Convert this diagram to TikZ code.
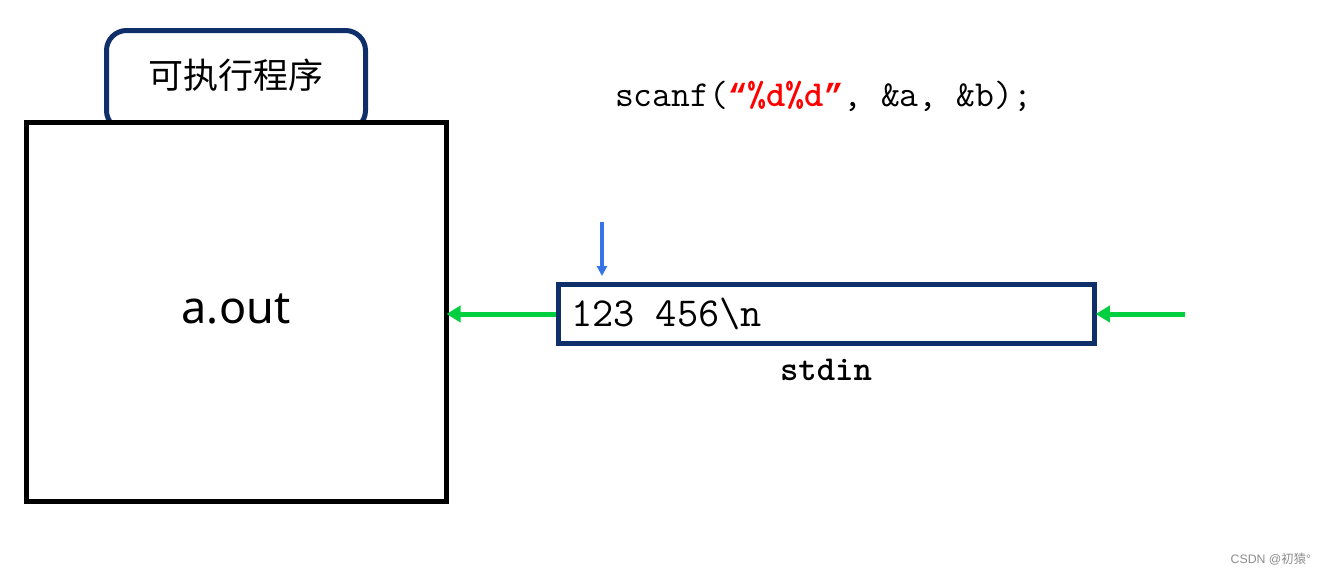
\documentclass[tikz,border=0pt]{standalone}
\usepackage{fontspec}
\setmainfont{Liberation Sans}
\newfontfamily\cjk{Noto Sans CJK SC}
\newfontfamily\labelf{Noto Sans}
\newfontfamily\quotef{Liberation Mono}
\usetikzlibrary{arrows.meta}
\definecolor{navy}{HTML}{0F2F6B}
\definecolor{flow}{HTML}{00D040}
\definecolor{pointer}{HTML}{3575E8}
\definecolor{mark}{HTML}{8C8C8C}
\newcommand{\qmark}[1]{{\quotef\bfseries\fontsize{32}{36}\selectfont #1}}
\tikzset{
  x=1pt,y=-1pt,
  prog/.style={draw=black,line width=5pt,fill=white,minimum width=420pt,minimum height=379pt,inner sep=0pt},
  tag/.style={draw=navy,line width=5pt,fill=white,rounded corners=20pt,minimum width=259pt,minimum height=100pt,inner sep=0pt},
  buffer/.style={draw=navy,line width=5.5pt,fill=white,minimum width=536pt,minimum height=59pt,inner sep=0pt},
  flowarrow/.style={draw=flow,line width=5pt,-{Triangle[length=14pt,width=16pt]}},
  pointerarrow/.style={draw=pointer,line width=3.2pt,-{Triangle[length=10pt,width=10pt]}},
  txt/.style={inner sep=0pt,outer sep=0pt,text=black}
}
\begin{document}
\begin{tikzpicture}
\useasboundingbox (0,0) rectangle (1326,574);
\node[tag] (tag) at (236,80.5) {};
\node[txt,font=\cjk\fontsize{35}{35}\selectfont] (tagtext) at (236,75) {可执行程序};
\node[prog] (prog) at (236,311.5) {};
\node[txt,anchor=base,font=\labelf\fontsize{45}{45}\selectfont] (progtext) at (236,323) {a.out};
\node[buffer] (buf) at (826.5,314) {};
\node[txt,anchor=base west,font=\ttfamily\fontsize{41.2}{41}\selectfont] (buftext) at (571,326) {123 456\textbackslash n};
\node[txt,anchor=base,font=\ttfamily\bfseries\fontsize{35}{35}\selectfont] (stdin) at (826,380) {stdin};
\node[txt,anchor=base west,font=\ttfamily\fontsize{36.6}{37}\selectfont] (code) at (615,106) {scanf(\textcolor{red}{\qmark{“}\bfseries\%d\%d\qmark{”}}, \&a, \&b);};
\node[txt,text=mark,anchor=base east,font=\fontsize{12.3}{12.3}\selectfont] (wm) at (1311,563) {CSDN @{\cjk 初猿}°};
\coordinate (inflow) at (1185,314);
\coordinate (ptrstart) at (602,222);
\coordinate (ptrend) at (602,276);
\draw[flowarrow] (inflow) -- ([xshift=-1.5pt]buf.east);
\draw[flowarrow] (buf.west) -- ([xshift=-2pt]prog.east |- buf.west);
\draw[pointerarrow] (ptrstart) -- (ptrend);
\end{tikzpicture}
\end{document}
